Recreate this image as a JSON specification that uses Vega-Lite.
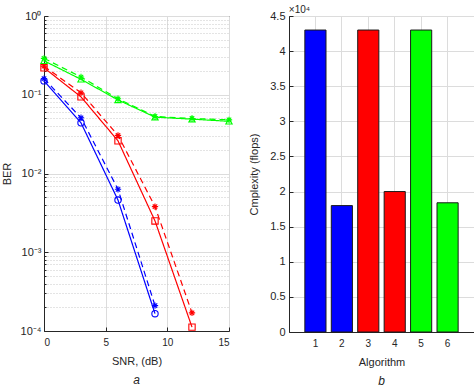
{
  "$schema": "https://vega.github.io/schema/vega-lite/v6.json",
  "background": "white",
  "padding": {"left": 0, "top": 4, "right": 2, "bottom": 0},
  "spacing": 13,
  "config": {
    "font": "Liberation Sans",
    "view": {"stroke": "#262626", "strokeWidth": 1},
    "axis": {
      "labelFontSize": 10,
      "labelColor": "#262626",
      "titleFontSize": 11,
      "titleFontWeight": "normal",
      "titleColor": "#262626",
      "domainColor": "#262626",
      "tickColor": "#262626",
      "gridColor": "#dcdcdc"
    },
    "title": {"font": "Liberation Sans", "fontWeight": "normal", "color": "#262626"}
  },
  "hconcat": [
    {
      "width": 185,
      "height": 315,
      "title": {"text": "a", "orient": "bottom", "fontStyle": "italic", "fontSize": 12, "offset": 9},
      "data": {"values": [
        {"series": "s1", "snr": 0, "ber": 0.15},
        {"series": "s1", "snr": 3, "ber": 0.044},
        {"series": "s1", "snr": 6, "ber": 0.0046},
        {"series": "s1", "snr": 9, "ber": 0.000166},
        {"series": "s2", "snr": 0, "ber": 0.16},
        {"series": "s2", "snr": 3, "ber": 0.051},
        {"series": "s2", "snr": 6, "ber": 0.0063},
        {"series": "s2", "snr": 9, "ber": 0.00021},
        {"series": "s3", "snr": 0, "ber": 0.22},
        {"series": "s3", "snr": 3, "ber": 0.094},
        {"series": "s3", "snr": 6, "ber": 0.026},
        {"series": "s3", "snr": 9, "ber": 0.0025},
        {"series": "s3", "snr": 12, "ber": 0.000112},
        {"series": "s4", "snr": 0, "ber": 0.23},
        {"series": "s4", "snr": 3, "ber": 0.106},
        {"series": "s4", "snr": 6, "ber": 0.0305},
        {"series": "s4", "snr": 9, "ber": 0.0038},
        {"series": "s4", "snr": 12, "ber": 0.00017},
        {"series": "s5", "snr": 0, "ber": 0.27},
        {"series": "s5", "snr": 3, "ber": 0.157},
        {"series": "s5", "snr": 6, "ber": 0.086},
        {"series": "s5", "snr": 9, "ber": 0.052},
        {"series": "s5", "snr": 12, "ber": 0.049},
        {"series": "s5", "snr": 15, "ber": 0.046},
        {"series": "s6", "snr": 0, "ber": 0.29},
        {"series": "s6", "snr": 3, "ber": 0.168},
        {"series": "s6", "snr": 6, "ber": 0.089},
        {"series": "s6", "snr": 9, "ber": 0.053},
        {"series": "s6", "snr": 12, "ber": 0.05},
        {"series": "s6", "snr": 15, "ber": 0.048}
      ]},
      "encoding": {
        "x": {
          "field": "snr", "type": "quantitative",
          "scale": {"domain": [0, 15], "nice": false},
          "axis": {"title": "SNR, (dB)", "values": [0, 5, 10, 15], "grid": true, "tickSize": -4, "labelPadding": 10, "titlePadding": 8}
        },
        "y": {
          "field": "ber", "type": "quantitative",
          "scale": {"type": "log", "domain": [0.0001, 1], "nice": false},
          "axis": {
            "title": "BER",
            "values": [0.0001, 0.0002, 0.0003, 0.0004, 0.0005, 0.0006, 0.0007, 0.0008, 0.0009, 0.001, 0.002, 0.003, 0.004, 0.005, 0.006, 0.007, 0.008, 0.009, 0.01, 0.02, 0.03, 0.04, 0.05, 0.06, 0.07, 0.08, 0.09, 0.1, 0.2, 0.3, 0.4, 0.5, 0.6, 0.7, 0.8, 0.9, 1],
            "labelExpr": "datum.value == 1 ? '10⁰' : datum.value == 0.1 ? '10⁻¹' : datum.value == 0.01 ? '10⁻²' : datum.value == 0.001 ? '10⁻³' : datum.value == 0.0001 ? '10⁻⁴' : ''",
            "labelFontSize": 11,
            "grid": true,
            "gridColor": {"condition": {"test": "indexof([1, 0.1, 0.01, 0.001, 0.0001], datum.value) >= 0", "value": "#dcdcdc"}, "value": "#c8c8c8"},
            "gridDash": {"condition": {"test": "indexof([1, 0.1, 0.01, 0.001, 0.0001], datum.value) >= 0", "value": []}, "value": [1, 2]},
            "tickSize": {"condition": {"test": "indexof([1, 0.1, 0.01, 0.001, 0.0001], datum.value) >= 0", "value": -4}, "value": -2},
            "labelPadding": 7,
            "titlePadding": 8
          }
        },
        "color": {
          "field": "series", "type": "nominal",
          "scale": {"domain": ["s1", "s2", "s3", "s4", "s5", "s6"], "range": ["#0000ff", "#0000ff", "#ff0000", "#ff0000", "#00ff00", "#00ff00"]},
          "legend": null
        }
      },
      "layer": [
        {
          "mark": {"type": "line", "strokeWidth": 1.2},
          "encoding": {
            "strokeDash": {
              "field": "series", "type": "nominal",
              "scale": {"domain": ["s1", "s2", "s3", "s4", "s5", "s6"], "range": [[1, 0], [6, 4], [1, 0], [6, 4], [1, 0], [6, 4]]},
              "legend": null
            }
          }
        },
        {
          "mark": {"type": "point", "filled": false, "size": 40, "strokeWidth": 1.1, "opacity": 1},
          "encoding": {
            "shape": {
              "field": "series", "type": "nominal",
              "scale": {"domain": ["s1", "s2", "s3", "s4", "s5", "s6"], "range": ["circle", "M0,-1L0,1M-1,0L1,0M-0.7,-0.7L0.7,0.7M-0.7,0.7L0.7,-0.7", "square", "M0,-1L0,1M-1,0L1,0M-0.7,-0.7L0.7,0.7M-0.7,0.7L0.7,-0.7", "triangle-up", "M0,-1L0,1M-1,0L1,0M-0.7,-0.7L0.7,0.7M-0.7,0.7L0.7,-0.7"]},
              "legend": null
            }
          }
        }
      ]
    },
    {
      "width": 185,
      "height": 316,
      "title": {"text": "b", "orient": "bottom", "fontStyle": "italic", "fontSize": 12, "offset": 9},
      "layer": [
        {
          "data": {"values": [
            {"alg": "1", "flops": 43000},
            {"alg": "2", "flops": 18000},
            {"alg": "3", "flops": 43000},
            {"alg": "4", "flops": 20000},
            {"alg": "5", "flops": 43000},
            {"alg": "6", "flops": 18400}
          ]},
          "mark": {"type": "bar", "stroke": "#1a1a1a", "strokeWidth": 1},
          "encoding": {
            "x": {
              "field": "alg", "type": "ordinal",
              "scale": {"paddingInner": 0.2, "paddingOuter": 0.6},
              "axis": {"title": "Algorithm", "labelAngle": 0, "grid": true, "bandPosition": 0.5, "tickSize": -4, "labelPadding": 10, "titlePadding": 8}
            },
            "y": {
              "field": "flops", "type": "quantitative",
              "scale": {"domain": [0, 45000], "nice": false},
              "axis": {"title": "Cmplexity (flops)", "values": [0, 5000, 10000, 15000, 20000, 25000, 30000, 35000, 40000, 45000], "labelExpr": "datum.value / 10000 + ''", "labelFontSize": 11, "grid": true, "tickSize": -4, "labelPadding": 8, "titlePadding": 10}
            },
            "color": {
              "field": "alg", "type": "nominal",
              "scale": {"domain": ["1", "2", "3", "4", "5", "6"], "range": ["#0000ff", "#0000ff", "#ff0000", "#ff0000", "#00ff00", "#00ff00"]},
              "legend": null
            }
          }
        },
        {
          "data": {"values": [{"note": "×10⁴"}]},
          "mark": {"type": "text", "align": "left", "baseline": "bottom", "fontSize": 10, "color": "#262626", "dx": -16, "dy": -1},
          "encoding": {
            "x": {"datum": "1", "type": "ordinal", "bandPosition": 0, "axis": {"title": "Algorithm", "labelAngle": 0, "grid": true, "bandPosition": 0.5, "tickSize": -4, "labelPadding": 10, "titlePadding": 8}},
            "y": {"datum": 45000, "type": "quantitative", "axis": {"title": "Cmplexity (flops)", "values": [0, 5000, 10000, 15000, 20000, 25000, 30000, 35000, 40000, 45000], "labelExpr": "datum.value / 10000 + ''", "labelFontSize": 11, "grid": true, "tickSize": -4, "labelPadding": 8, "titlePadding": 10}},
            "text": {"field": "note"}
          }
        }
      ]
    }
  ]
}
